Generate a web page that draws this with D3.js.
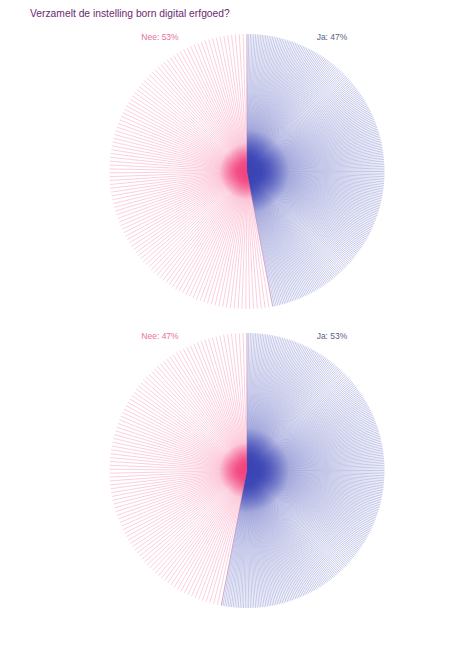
<!DOCTYPE html>
<html>
<head>
<meta charset="utf-8">
<script src="https://cdn.jsdelivr.net/npm/d3@7"></script>
<style>
  html, body { margin: 0; padding: 0; background: #fff; }
  svg { display: block; }
</style>
</head>
<body>
<svg id="chart" width="474" height="658"></svg>
<script>
// ---- data ----
const title = "Verzamelt de instelling born digital erfgoed?";
const categories = ["Ja", "Nee"];
const chartA = [47, 53];   // top pie: Ja, Nee
const chartB = [53, 47];   // bottom pie: Ja, Nee

// ---- style ----
const W = 474, H = 658;
const colors = { Ja: "#3a44b4", Nee: "#f2447f" };
const labelColors = { Ja: "#5a5f80", Nee: "#ea6f9c" };
const stepDeg = { Ja: 0.72, Nee: 1.62 };
const lineOpacity = { Ja: 0.46, Nee: 0.32 };
const lineWidth = { Ja: 0.65, Nee: 0.8 };
const glowRadius = { Ja: 42, Nee: 28 };
const radius = 137.5;
const centers = [{ x: 247, y: 171.5 }, { x: 247, y: 470.5 }];

const svg = d3.select("#chart");
const defs = svg.append("defs");
categories.forEach(cat => {
  const gr = defs.append("radialGradient")
    .attr("id", "glow-" + cat)
    .attr("gradientUnits", "userSpaceOnUse")
    .attr("cx", 0).attr("cy", 0).attr("r", glowRadius[cat]);
  [[0, 1], [0.35, 0.85], [0.7, 0.4], [1, 0]].forEach(([o, op]) => {
    gr.append("stop").attr("offset", o)
      .attr("stop-color", colors[cat]).attr("stop-opacity", op);
  });
});

svg.append("text")
  .attr("x", 30).attr("y", 17)
  .attr("font-family", "Liberation Sans, Arial, sans-serif")
  .attr("font-size", 10.3)
  .attr("fill", "#6b2a6c")
  .text(title);

const pie = d3.pie().sort(null).value(d => d.value);

[chartA, chartB].forEach((vals, i) => {
  const data = categories.map((c, j) => ({ cat: c, value: vals[j] }));
  const arcs = pie(data);
  const c = centers[i];
  const g = svg.append("g").attr("transform", `translate(${c.x},${c.y})`);
  const rScale = d3.scaleLinear().domain([0, 1]).range([0, radius]);

  arcs.forEach(a => {
    const cat = a.data.cat;
    const step = stepDeg[cat] * Math.PI / 180;
    const n = Math.max(1, Math.round((a.endAngle - a.startAngle) / step));
    const angles = d3.range(n + 1).map(k => a.startAngle + (a.endAngle - a.startAngle) * k / n);
    g.append("g").selectAll("line")
      .data(angles)
      .join("line")
      .attr("x1", 0).attr("y1", 0)
      .attr("x2", t => Math.sin(t) * rScale(1))
      .attr("y2", t => -Math.cos(t) * rScale(1))
      .attr("stroke", colors[cat])
      .attr("stroke-opacity", lineOpacity[cat])
      .attr("stroke-width", lineWidth[cat]);
  });

  // dense centre glow, clipped to each slice
  arcs.forEach(a => {
    const cat = a.data.cat;
    g.append("path")
      .attr("d", d3.arc().innerRadius(0).outerRadius(glowRadius[cat])(a))
      .attr("fill", `url(#glow-${cat})`);
  });

  // labels
  const labelY = c.y - radius + 6;
  svg.append("text")
    .attr("x", 160).attr("y", labelY)
    .attr("text-anchor", "middle")
    .attr("font-family", "Liberation Sans, Arial, sans-serif")
    .attr("font-size", 8.5)
    .attr("fill", labelColors.Nee)
    .text(`Nee: ${vals[1]}%`);
  svg.append("text")
    .attr("x", 332).attr("y", labelY)
    .attr("text-anchor", "middle")
    .attr("font-family", "Liberation Sans, Arial, sans-serif")
    .attr("font-size", 8.5)
    .attr("fill", labelColors.Ja)
    .text(`Ja: ${vals[0]}%`);
});
</script>
</body>
</html>
